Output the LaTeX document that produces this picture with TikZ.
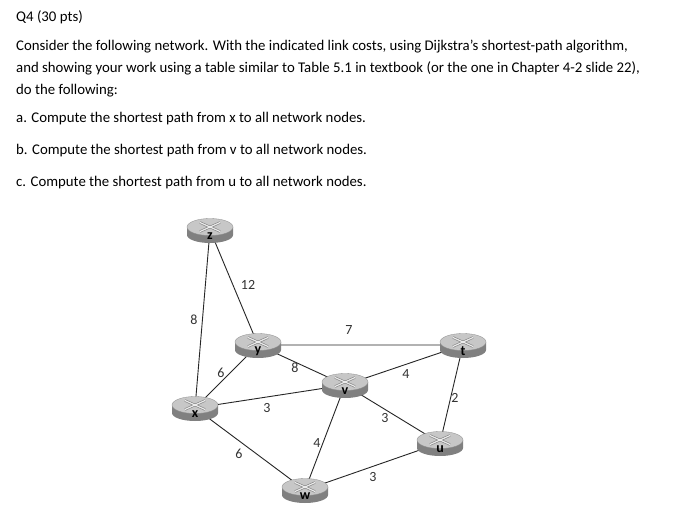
\documentclass[tikz,border=0pt]{standalone}
\usepackage{fontspec}
\setmainfont{Carlito}
\begin{document}
\begin{tikzpicture}[x=1pt,y=-1pt,
  txt/.style={anchor=base west,inner sep=0,font=\fontsize{14.8}{17}\selectfont},
  cost/.style={inner sep=0,font=\fontsize{14}{16}\selectfont,text=black!80},
  edge/.style={line width=0.9pt,black!85}]
\useasboundingbox (0,0) rectangle (682,511);
\fill[white] (0,0) rectangle (682,511);
\node[txt] (h) at (16,22) {Q4 (30 pts)};
\node[txt] (l1) at (16,51) {Consider the following network. With the indicated link costs, using Dijkstra's shortest-path algorithm,};
\node[txt] (l2) at (16,73) {and showing your work using a table similar to Table 5.1 in textbook (or the one in Chapter 4-2 slide 22),};
\node[txt] (l3) at (16,94) {do the following:};
\node[txt] (a) at (16,122) {a. Compute the shortest path from x to all network nodes.};
\node[txt] (b) at (16,154) {b. Compute the shortest path from v to all network nodes.};
\node[txt] (c) at (16,186) {c. Compute the shortest path from u to all network nodes.};
\coordinate (z) at (210,230);
\coordinate (y) at (258,345);
\coordinate (t) at (463,345);
\coordinate (v) at (345,385);
\coordinate (x) at (195,408);
\coordinate (u) at (440,443);
\coordinate (w) at (305,490);
\draw[edge] (z)--(y) (z)--(x) (y)--(t) (y)--(x) (y)--(v) (v)--(t) (x)--(v) (v)--(u) (t)--(u) (x)--(w) (v)--(w) (w)--(u);
\node[cost] (c1) at (248,285) {12};
\node[cost] (c2) at (194,320) {8};
\node[cost] (c3) at (349,330) {7};
\node[cost] (c4) at (221,373) {6};
\node[cost] (c5) at (295,368) {8};
\node[cost] (c6) at (406,374) {4};
\node[cost] (c7) at (455,398) {2};
\node[cost] (c8) at (267,408) {3};
\node[cost] (c9) at (385,418) {3};
\node[cost] (c10) at (317,443) {4};
\node[cost] (c11) at (239,454) {6};
\node[cost] (c12) at (373,477) {3};
\foreach \n in {z,y,t,v,x,u,w}{
  \begin{scope}[shift={(\n)}]
    \fill[black!50] (-23,-3) -- (-23,5) arc[start angle=180,end angle=0,x radius=23,y radius=8] -- (23,-3) -- cycle;
    \fill[black!22,draw=black!45,line width=0.3pt] (0,-3) ellipse[x radius=23,y radius=8.5];
    \draw[black!50,line width=2.4pt] (-10,-7.5)--(10,1.5) (-10,1.5)--(10,-7.5);
    \draw[black!8,line width=1.2pt] (-10,-7.5)--(10,1.5) (-10,1.5)--(10,-7.5);
    \node[inner sep=0,font=\bfseries\fontsize{14}{14}\selectfont] (lab\n) at (0,6) {\n};
  \end{scope}}
\end{tikzpicture}
\end{document}
